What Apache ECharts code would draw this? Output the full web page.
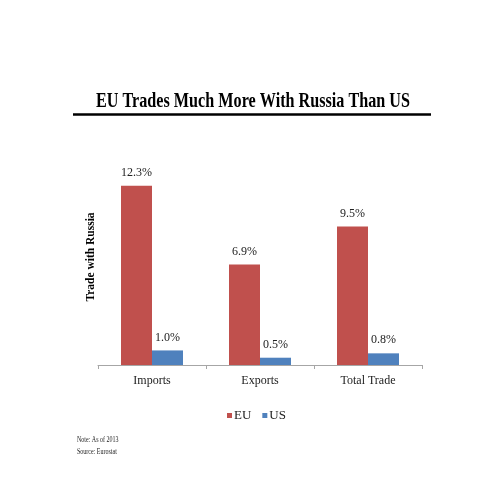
<!DOCTYPE html>
<html><head><meta charset="utf-8">
<script src="https://cdn.jsdelivr.net/npm/echarts@6/dist/echarts.min.js"></script>
<style>html,body{margin:0;padding:0;background:#fff}#c{width:495px;height:495px}</style>
</head><body><div id="c"></div>
<script>
const categories = ['Imports', 'Exports', 'Total Trade'];
const euValues = [12.3, 6.9, 9.5];
const usValues = [1.0, 0.5, 0.8];
const seriesNames = ['EU', 'US'];
const titleText = 'EU Trades Much More With Russia Than US';
const noteLines = ['Note: As of 2013', 'Source: Eurostat'];
const serif = '"Liberation Serif", "Times New Roman", serif';

const chart = echarts.init(document.getElementById('c'), null, {renderer: 'canvas'});
const labelCfg = {show: true, position: 'top', distance: 7, color: '#222', fontFamily: serif, fontSize: 12, formatter: p => p.value.toFixed(1) + '%'};
chart.setOption({
  animation: false,
  backgroundColor: '#fff',
  legend: {data: seriesNames, left: 222, top: 404, itemWidth: 5, itemHeight: 5, itemGap: 11,
    icon: 'rect', textStyle: {fontFamily: serif, fontSize: 13, color: '#222', padding: [0,0,0,-3]}},
  grid: {left: 98, right: 73, top: 161, bottom: 130},
  xAxis: {type: 'category', data: categories,
    axisLine: {lineStyle: {color: '#a6a6a6'}},
    axisTick: {show: true, length: 4, lineStyle: {color: '#a6a6a6'}},
    axisLabel: {fontFamily: serif, fontSize: 12, color: '#222', margin: 10}},
  yAxis: {type: 'value', min: 0, max: 14, show: true, name: 'Trade with Russia',
    nameLocation: 'middle', nameGap: 1, nameRotate: 90,
    nameTextStyle: {fontFamily: serif, fontWeight: 'bold', fontSize: 11.5, color: '#000', padding: [0, 0, 0, 12]},
    axisLine: {show: false}, axisTick: {show: false}, axisLabel: {show: false}, splitLine: {show: false}},
  series: [
    {name: seriesNames[0], type: 'bar', data: euValues, barWidth: 31, barGap: '0%', itemStyle: {color: '#C0504D'}, label: labelCfg},
    {name: seriesNames[1], type: 'bar', data: usValues, barWidth: 31, barGap: '0%', itemStyle: {color: '#4F81BD'}, label: labelCfg}
  ],
  graphic: [
    {type: 'text', x: 253, y: 102, scaleX: 0.77, style: {text: titleText, font: 'bold 21px ' + serif, fill: '#000', textAlign: 'center', textVerticalAlign: 'middle'}},
    {type: 'line', shape: {x1: 73, y1: 114.5, x2: 431, y2: 114.5}, style: {stroke: '#000', lineWidth: 2.5}},
    {type: 'text', x: 77, y: 440, scaleX: 0.75, style: {text: noteLines[0], font: '8px ' + serif, fill: '#222', textVerticalAlign: 'middle'}},
    {type: 'text', x: 77, y: 452, scaleX: 0.75, style: {text: noteLines[1], font: '8px ' + serif, fill: '#222', textVerticalAlign: 'middle'}}
  ]
});
</script></body></html>
